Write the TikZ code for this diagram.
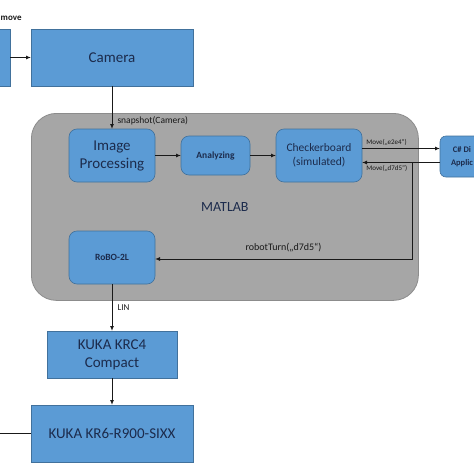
\documentclass[tikz,border=0pt]{standalone}
\usepackage{fontspec}
\setmainfont{Carlito}
\usetikzlibrary{arrows.meta}
\definecolor{boxblue}{HTML}{5B9BD5}
\definecolor{boxedge}{HTML}{41719C}
\definecolor{boxtext}{HTML}{1C2B4C}
\definecolor{mgray}{HTML}{A6A6A6}
\definecolor{mgrayedge}{HTML}{8C8C8C}
\begin{document}
\begin{tikzpicture}[x=1pt,y=-1pt,
 blk/.style={draw=boxedge, fill=boxblue, text=boxtext, line width=0.6pt, inner sep=0pt, outer sep=0pt, anchor=north west, align=center},
 rblk/.style={blk, rounded corners=8pt},
 conn/.style={line width=1pt, draw=black!90, -{Latex[length=5pt,width=4pt]}},
 plainline/.style={line width=1pt, draw=black!90},
 lbl/.style={text=black!90, inner sep=0pt}]
\useasboundingbox (0,0) rectangle (474,474);

% MATLAB container
\node[draw=mgrayedge, fill=mgray, line width=0.8pt, rounded corners=25pt, minimum width=387pt, minimum height=187pt, anchor=north west, inner sep=0pt, text=boxtext, font=\fontsize{14}{16}\selectfont] (matlab) at (31,113) {MATLAB};

% blocks
\node[blk, minimum width=50pt, minimum height=57pt] (prev) at (-40,29) {};
\node[blk, minimum width=162pt, minimum height=57pt, font=\fontsize{15}{18}\selectfont] (camera) at (31,29) {Camera};
\node[rblk, minimum width=86pt, minimum height=53pt, font=\fontsize{15}{18}\selectfont] (imgproc) at (69,129) {Image\\Processing};
\node[rblk, minimum width=69pt, minimum height=39pt, font=\bfseries\fontsize{9.5}{11}\selectfont] (analyz) at (181,136) {Analyzing};
\node[rblk, minimum width=86pt, minimum height=53pt, font=\fontsize{11.5}{13.5}\selectfont] (checker) at (276,129) {Checkerboard\\(simulated)};
\node[rblk, rounded corners=6pt, minimum width=44pt, minimum height=41pt, font=\bfseries\fontsize{8.5}{13}\selectfont] (csharp) at (440,136) {C\# Di\\Applic};
\node[rblk, minimum width=86pt, minimum height=53pt, font=\bfseries\fontsize{9.5}{11}\selectfont] (robo) at (69,231) {RoBO-2L};
\node[blk, minimum width=130pt, minimum height=47pt, font=\fontsize{15}{18}\selectfont] (krc) at (47,331) {KUKA KRC4\\Compact};
\node[blk, minimum width=162pt, minimum height=57pt, font=\fontsize{15}{18}\selectfont] (kr6) at (31,405) {KUKA KR6-R900-SIXX};

% labels
\node[lbl, anchor=west, font=\bfseries\fontsize{9}{11}\selectfont] (movelbl) at (0.5,18) {move};

% connectors
\draw[conn] (prev.east) -- (camera.west);
\draw[conn] (camera.south) -- node[lbl, pos=0.82, anchor=west, xshift=5pt, font=\fontsize{9.5}{11}\selectfont] {snapshot(Camera)} (imgproc.north);
\draw[conn] (imgproc.east) -- (analyz.west);
\draw[conn] (analyz.east) -- (checker.west);
\draw[conn] ([yshift=7pt]checker.east) -- node[lbl, pos=0.05, anchor=south west, yshift=2pt, font=\fontsize{7}{8}\selectfont] {Move(„e2e4“)} ([yshift=7pt]checker.east -| csharp.west);
\draw[conn] ([yshift=-6pt]csharp.west) -- node[lbl, pos=0.95, anchor=north west, yshift=-2pt, font=\fontsize{7}{8}\selectfont] {Move(„d7d5“)} ([yshift=-6pt]csharp.west -| checker.east);
\coordinate (junc) at (412,162.5);
\draw[conn] (junc) |- node[lbl, pos=0.75, above=6.5pt, font=\fontsize{10}{12}\selectfont] {robotTurn(„d7d5“)} ([yshift=-1.5pt]robo.east);
\draw[conn] (robo.south) -- node[lbl, pos=0.5, anchor=west, xshift=5pt, font=\fontsize{9}{11}\selectfont] {LIN} (krc.north);
\draw[conn] (krc.south) -- (kr6.north);
\coordinate (lft) at (-5,433.5);
\draw[plainline] (lft) -- (kr6.west);
\end{tikzpicture}
\end{document}
